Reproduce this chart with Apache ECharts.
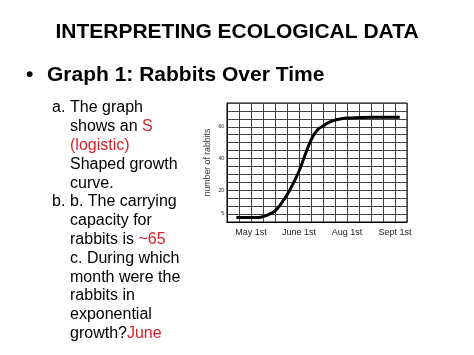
<!DOCTYPE html>
<html><head><meta charset="utf-8">
<style>html,body{margin:0;padding:0;background:#fff;}#c{width:474px;height:355px;}</style>
<script src="https://cdn.jsdelivr.net/npm/echarts@6/dist/echarts.min.js"></script>
</head><body><div id="c"></div>
<script>
// Data (x = grid column index, y = number of rabbits)
const xLabels = {2: 'May 1st', 6: 'June 1st', 10: 'Aug 1st', 14: 'Sept 1st'};
const yLabels = [5, 20, 40, 60];
const weekIdx = [0.78, 1.5, 2.4, 2.9, 3.4, 3.9, 4.2, 4.6, 5.0, 5.5, 6.0, 6.4, 6.8, 7.2, 7.6, 8.0, 8.5, 9.0, 9.5, 10.0, 11.0, 12.0, 13.0, 14.4];
const rabbits = [2.8, 2.8, 2.8, 3.2, 4.5, 6.5, 8.5, 12.5, 17, 24, 32, 40, 48, 54.5, 58.5, 60.5, 62.8, 64.2, 65, 65.5, 65.8, 66, 66, 66];

const chart = echarts.init(document.getElementById('c'), null, {renderer: 'canvas'});
const fam = '"Liberation Sans", Arial, sans-serif';
const red = '#d8222c';
const lineH = 18.8;
const listLines = [
  ['a.', '{b|The graph}'],
  ['', '{b|shows an }{r|S}'],
  ['', '{r|(logistic)}'],
  ['', '{b|Shaped growth}'],
  ['', '{b|curve.}'],
  ['b.', '{b|b. The carrying}'],
  ['', '{b|capacity for}'],
  ['', '{b|rabbits is }{r|~65}'],
  ['', '{b|c. During which}'],
  ['', '{b|month were the}'],
  ['', '{b|rabbits in}'],
  ['', '{b|exponential}'],
  ['', '{b|growth?}{r|June}']
];
const graphics = [
  {type: 'text', left: 'center', top: 22, style: {text: 'INTERPRETING ECOLOGICAL DATA', font: 'bold 21px ' + fam, fill: '#000'}},
  {type: 'text', x: 26, y: 65, style: {text: '•', font: 'bold 21px ' + fam, fill: '#000'}},
  {type: 'text', x: 47, y: 65, style: {text: 'Graph 1: Rabbits Over Time', font: 'bold 21px ' + fam, fill: '#000'}}
];
listLines.forEach((l, i) => {
  const y = 108 + i * lineH;
  if (l[0]) graphics.push({type: 'text', x: 52, y: y, style: {text: l[0], font: '16px ' + fam, fill: '#000', verticalAlign: 'middle'}});
  graphics.push({type: 'text', x: 70, y: y, style: {text: l[1], verticalAlign: 'middle',
    rich: {b: {font: '16px ' + fam, fill: '#000'}, r: {font: '16px ' + fam, fill: red}}}});
});

chart.setOption({
  animation: false,
  backgroundColor: '#fff',
  graphic: graphics,
  grid: {left: 227, top: 103, width: 180, height: 119, containLabel: false, show: true, borderColor: '#000', borderWidth: 1},
  xAxis: {
    type: 'value', min: 0, max: 15, interval: 1,
    axisLine: {show: true, lineStyle: {color: '#000', width: 1}},
    axisTick: {show: false},
    splitLine: {show: true, lineStyle: {color: '#444', width: 1}},
    axisLabel: {fontSize: 9, color: '#222', fontFamily: fam, margin: 6, formatter: v => xLabels[v] || ''}
  },
  yAxis: {
    type: 'value', min: 0, max: 75, interval: 5,
    name: 'number of rabbits', nameLocation: 'middle', nameGap: 15,
    nameTextStyle: {fontSize: 8.7, color: '#333', fontFamily: fam},
    axisLine: {show: true, lineStyle: {color: '#000', width: 1}},
    axisTick: {show: false},
    splitLine: {show: true, lineStyle: {color: '#444', width: 1}},
    axisLabel: {fontSize: 5, color: '#222', fontFamily: fam, margin: 3, formatter: v => yLabels.includes(v) ? String(v) : ''}
  },
  series: [{
    type: 'line', smooth: 0.4, symbol: 'none',
    lineStyle: {color: '#000', width: 3},
    data: weekIdx.map((x, i) => [x, rabbits[i]])
  }]
});
</script></body></html>
